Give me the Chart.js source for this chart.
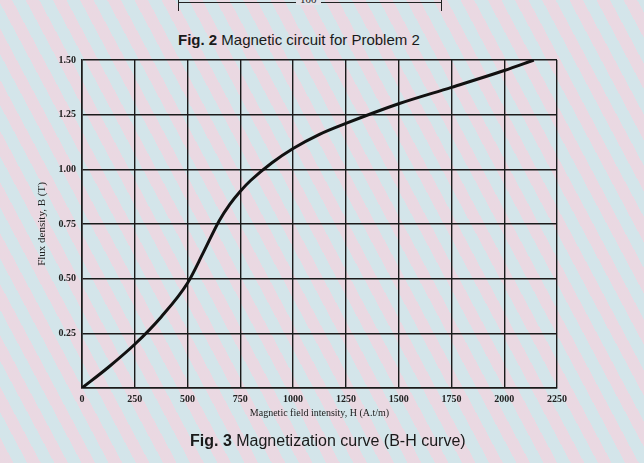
<!DOCTYPE html>
<html>
<head>
<meta charset="utf-8">
<script src="https://cdn.jsdelivr.net/npm/chart.js@4/dist/chart.umd.min.js"></script>
<style>
  html, body { margin: 0; padding: 0; }
  body {
    width: 644px; height: 463px; position: relative; overflow: hidden;
    background:
      repeating-linear-gradient(62deg, rgba(240,205,218,0.5) 0 12px, rgba(195,230,234,0.5) 12px 24px),
      #e4e4ea;
  }
  #wrap { position: absolute; left: 0; top: 0; width: 644px; height: 463px; }
  .cap { position: absolute; font-family: "Liberation Sans", Arial, sans-serif; color: #1a1a1a; white-space: nowrap; }
  .cap b { font-weight: bold; }
  #dim { position: absolute; left: 178px; top: 2px; width: 263px; height: 1px; background: #222; }
  #dimL, #dimR { position: absolute; top: -2px; width: 1px; height: 13px; background: #222; }
  #dimL { left: 178px; } #dimR { left: 441px; }
  #dimTxt { position: absolute; left: 296px; top: -7px; font-family: "Liberation Serif", serif; font-size: 11px;
            padding: 0 4px; color: #222; background: #e2e3e9; }
</style>
</head>
<body>
<div id="dim"></div><div id="dimL"></div><div id="dimR"></div>
<div id="dimTxt">100</div>
<div class="cap" style="left:178px; top:31px; font-size:15px;"><b>Fig. 2</b> Magnetic circuit for Problem 2</div>
<div id="wrap"><canvas id="chartBH"></canvas></div>
<div class="cap" style="left:190px; top:432px; font-size:16px;"><b>Fig. 3</b> Magnetization curve (B-H curve)</div>
<script>
// Courbe B-H
const fieldH = [0, 125, 250, 375, 500, 575, 650, 700, 750, 800, 900, 1000, 1125, 1250, 1500, 1750, 2000, 2140];
const fluxB = [0, 0.095, 0.20, 0.325, 0.48, 0.62, 0.765, 0.84, 0.90, 0.95, 1.03, 1.095, 1.16, 1.21, 1.30, 1.375, 1.452, 1.50];
const xTicks = [0, 250, 500, 750, 1000, 1250, 1500, 1750, 2000, 2250];
const yTicks = [0.25, 0.50, 0.75, 1.00, 1.25, 1.50];

const serif = 'Liberation Serif, Times New Roman, serif';

new Chart(document.getElementById('chartBH'), {
    type: 'line',
    data: {
        datasets: [{
            data: fieldH.map((h, i) => ({ x: h, y: fluxB[i] })),
            borderColor: '#111',
            borderWidth: 3,
            pointRadius: 0,
            cubicInterpolationMode: 'monotone',
            fill: false
        }]
    },
    options: {
        responsive: true,
        maintainAspectRatio: false,
        animation: false,
        layout: { padding: { left: 30, top: 60, right: 87, bottom: 40 } },
        plugins: { legend: { display: false }, tooltip: { enabled: false } },
        scales: {
            x: {
                type: 'linear', min: 0, max: 2250,
                afterBuildTicks: s => { s.ticks = xTicks.map(v => ({ value: v })); },
                afterFit: s => { s.height = 35; },
                grid: { color: '#1a1a1a', lineWidth: 1.4, drawTicks: false },
                border: { color: '#1a1a1a', width: 1.6 },
                ticks: { padding: 5, color: '#222', font: { family: serif, size: 10, weight: 'bold' }, maxRotation: 0,
                         callback: v => String(v) },
                title: { display: true, text: 'Magnetic field intensity, H (A.t/m)', color: '#222',
                         font: { family: serif, size: 10 }, padding: { top: 0, bottom: 4 } }
            },
            y: {
                type: 'linear', min: 0, max: 1.5,
                afterBuildTicks: s => { s.ticks = [0].concat(yTicks).map(v => ({ value: v })); },
                afterFit: s => { s.width = 52; },
                grid: { color: '#1a1a1a', lineWidth: 1.4, drawTicks: false },
                border: { color: '#1a1a1a', width: 1.6 },
                ticks: { padding: 6, color: '#222', font: { family: serif, size: 10, weight: 'bold' },
                         callback: v => v === 0 ? '' : v.toFixed(2) },
                title: { display: true, text: 'Flux density, B (T)', color: '#222',
                         font: { family: serif, size: 11 }, padding: { top: 6, bottom: 0 } }
            }
        }
    }
});
</script>
</body>
</html>
